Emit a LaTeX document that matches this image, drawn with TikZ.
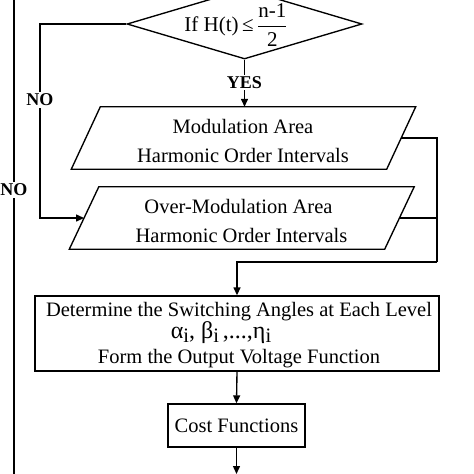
\documentclass[tikz,border=0pt]{standalone}
\usepackage{amsmath}
\usepackage{fontspec}
\setmainfont{Liberation Serif}
\usetikzlibrary{shapes.geometric,arrows.meta}
\tikzset{
  ln/.style={line width=1.35pt},
  arr/.style={ln,-{Triangle[length=8pt,width=7pt]}},
  txt/.style={font=\fontsize{20.5}{29}\selectfont, align=center, inner sep=0},
  lbl/.style={font=\bfseries\fontsize{18}{20}\selectfont, fill=white, inner sep=1.5pt},
  para/.style={draw=none, minimum width=315pt, minimum height=62pt, inner sep=0},
  boxn/.style={draw, ln, inner sep=0}
}
\newcommand{\drawpara}[2]{%
  \draw[ln] ([xshift=#2]#1.north west) -- ([xshift=#2]#1.north east)
    -- ([xshift=-#2]#1.south east) -- ([xshift=-#2]#1.south west) -- cycle;}
\newcommand{\sbi}{\raisebox{-4pt}{\fontsize{20.5}{22}\selectfont i}}
\begin{document}
\begin{tikzpicture}[x=1pt,y=-1pt]
\useasboundingbox (0,0) rectangle (474,474);
\clip (0,0) rectangle (474,474);
% decision
\node[draw, ln, diamond, minimum width=235pt, minimum height=70pt, inner sep=0] (d) at (244.5,24) {};
\node[txt, font=\fontsize{21}{29}\selectfont] (dt) at (236,25) {If H(t)\,≤\,$\dfrac{\text{n-1}}{\text{2}}$};
% parallelograms
\node[para] (p1) at (243.5,138) {};
\drawpara{p1}{14.5pt}
\node[txt] (p1t) at (243,140.5) {Modulation Area\\Harmonic Order Intervals};
\node[para] (p2) at (241.75,218) {};
\drawpara{p2}{14.75pt}
\node[txt] (p2t) at (238.5,221) {Over-Modulation Area\\\hspace*{6pt}Harmonic Order Intervals};
% process box
\node[boxn, minimum width=404pt, minimum height=75pt] (b) at (237,333.5) {};
\node[txt] (b1) at (239,312) {Determine the Switching Angles at Each Level};
\node[txt, font=\fontsize{24}{24}\selectfont] (b2) at (221,333) {α\sbi, β\sbi\,,...,η\sbi};
\node[txt] (b3) at (239,359) {Form the Output Voltage Function};
% cost
\node[boxn, minimum width=137pt, minimum height=43pt, font=\fontsize{20.5}{24}\selectfont] (c) at (236.5,425.5) {Cost Functions};
% helper coordinates
\coordinate (l1) at (40,24);
\coordinate (l2) at (40,218);
\coordinate (r1) at (437,138);
\coordinate (r2) at (437,218);
\coordinate (r3) at (437,262);
\coordinate (m3) at (237,262);
\coordinate (cend) at (236.5,474);
\coordinate (ft) at (14,-5);
\coordinate (fb) at (14,480);
% connectors
\draw[arr] (d.south) -- (d.south |- p1.north) node[lbl, pos=0.48] (yes) {YES};
\draw[arr] (d.west) -- (l1) -- (l2) -- (p2.west);
\node[lbl] (no1) at (40,100) {NO};
\draw[ln] (p1.east) -- (r1) -- (r3);
\draw[ln] (p2.east) -- (r2);
\draw[arr] (r3) -- (m3) -- (b.north);
\draw[arr] (b.south) -- (c.north);
\draw[arr] (c.south) -- (cend);
\draw[ln] (ft) -- (fb);
\node[lbl] (no2) at (14,190) {NO};
\end{tikzpicture}
\end{document}
